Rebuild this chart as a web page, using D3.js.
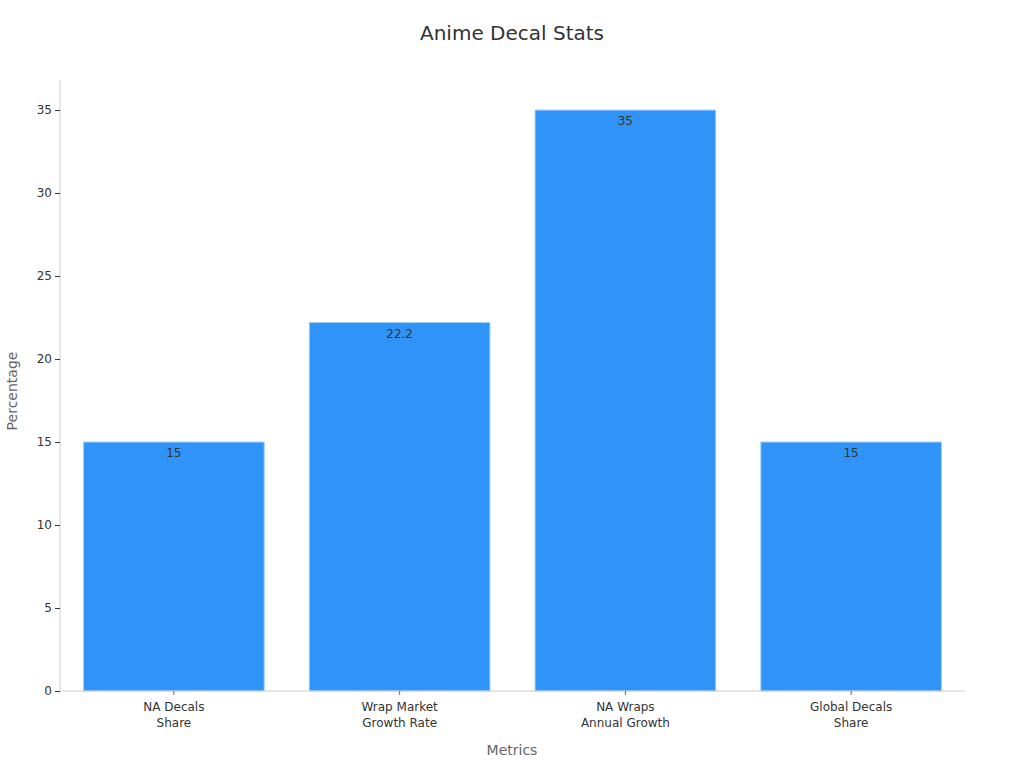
<!DOCTYPE html>
<html>
<head>
<meta charset="utf-8">
<script src="https://cdn.jsdelivr.net/npm/d3@7"></script>
<style>
  body { margin: 0; background: #fff; font-family: "DejaVu Sans", sans-serif; }
</style>
</head>
<body>
<svg id="chart" width="1024" height="768"></svg>
<script>
// data
const categories = [["NA Decals", "Share"], ["Wrap Market", "Growth Rate"], ["NA Wraps", "Annual Growth"], ["Global Decals", "Share"]];
const values = [15, 22.2, 35, 15];
const yTicks = [0, 5, 10, 15, 20, 25, 30, 35];

const svg = d3.select("#chart");
const margin = {top: 81, right: 61, bottom: 77, left: 60};
const width = 1024 - margin.left - margin.right;
const height = 768 - margin.top - margin.bottom;

const g = svg.append("g").attr("transform", `translate(${margin.left},${margin.top})`);

const x = d3.scaleBand()
    .domain(categories.map((d, i) => i))
    .range([1, width + 1])
    .paddingInner(0.2)
    .paddingOuter(0.1);

const y = d3.scaleLinear()
    .domain([0, 36.75])
    .range([height, 0]);

//title
svg.append("text")
    .attr("x", 512).attr("y", 40)
    .attr("text-anchor", "middle")
    .attr("font-size", 20)
    .attr("fill", "#333")
    .text("Anime Decal Stats");

//bars
g.selectAll("rect.bar")
    .data(values)
    .enter().append("rect")
    .attr("class", "bar")
    .attr("x", (d, i) => x(i))
    .attr("width", x.bandwidth())
    .attr("y", d => y(d))
    .attr("height", d => height - y(d))
    .attr("fill", "#2f93f8")
    .attr("stroke", "#9fcdfb")
    .attr("stroke-width", 1);

//value labels
g.selectAll("text.val")
    .data(values)
    .enter().append("text")
    .attr("class", "val")
    .attr("x", (d, i) => x(i) + x.bandwidth() / 2)
    .attr("y", d => y(d) + 15)
    .attr("text-anchor", "middle")
    .attr("font-size", 12)
    .attr("fill", "#333")
    .text(d => d);

//y axis
const yAxis = g.append("g")
    .call(d3.axisLeft(y).tickValues(yTicks).tickSize(5).tickPadding(3));
yAxis.select(".domain").attr("stroke", "#ccc").attr("d", `M0,-1V${height}`);
yAxis.selectAll(".tick line").attr("stroke", "#333");
yAxis.selectAll(".tick text").attr("font-size", 12).attr("fill", "#333").attr("font-family", "DejaVu Sans");

//x axis
const xAxis = g.append("g")
    .attr("transform", `translate(0,${height})`)
    .call(d3.axisBottom(x).tickSize(4).tickFormat(""));
xAxis.select(".domain").attr("stroke", "#ccc").attr("d", `M0,0H${width + 2}`);
xAxis.selectAll(".tick line").attr("stroke", "#666");
xAxis.selectAll(".tick").each(function(d) {
    const t = d3.select(this).append("text")
        .attr("text-anchor", "middle")
        .attr("font-size", 12)
        .attr("fill", "#333")
        .attr("font-family", "DejaVu Sans");
    categories[d].forEach((line, k) => {
        t.append("tspan").attr("x", 0).attr("y", 20 + k * 16).text(line);
    });
});

//axis titles
svg.append("text")
    .attr("x", 512).attr("y", 755)
    .attr("text-anchor", "middle")
    .attr("font-size", 14)
    .attr("fill", "#666")
    .text("Metrics");

svg.append("text")
    .attr("transform", `translate(17,${margin.top + height / 2 + 5}) rotate(-90)`)
    .attr("text-anchor", "middle")
    .attr("font-size", 14)
    .attr("fill", "#666")
    .text("Percentage");
</script>
</body>
</html>
